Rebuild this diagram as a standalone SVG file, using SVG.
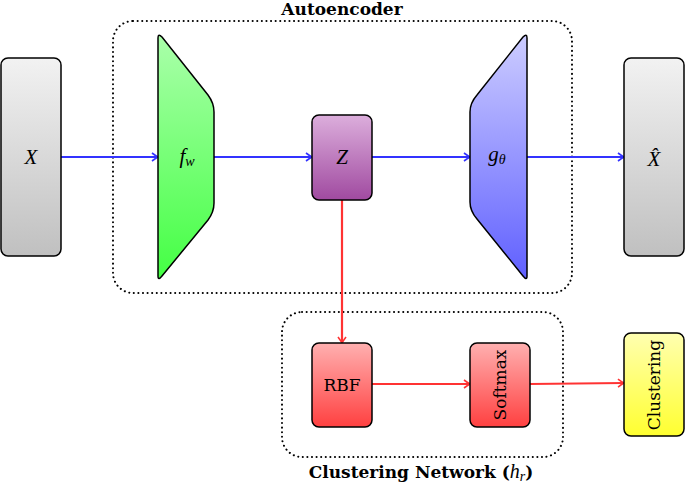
<svg xmlns="http://www.w3.org/2000/svg" width="685" height="486" viewBox="0 0 685 486">
<style>
.node{stroke:#000;stroke-width:1.5}
.txt{font-family:"DejaVu Serif","Liberation Serif",serif;font-size:17px;fill:#000;text-anchor:middle}
.math{font-family:"Liberation Serif","DejaVu Serif",serif;font-style:italic;font-size:21px}
.sub{font-size:14px}
.title{font-weight:bold;font-size:17px}
.frame{fill:none;stroke:#000;stroke-width:2;stroke-dasharray:0.1 4.5;stroke-linecap:round}
.blue{stroke:#3333ff;stroke-width:2.2;fill:none}
.red{stroke:#ff3333;stroke-width:2.2;fill:none}
</style>
<defs>
<linearGradient id="gGray" x1="0" y1="0" x2="0" y2="1"><stop offset="0" stop-color="#f2f2f2"/><stop offset="1" stop-color="#c0c0c0"/></linearGradient>
<linearGradient id="gGreen" x1="0" y1="0" x2="0" y2="1"><stop offset="0" stop-color="#aaffaa"/><stop offset="1" stop-color="#44ff44"/></linearGradient>
<linearGradient id="gBlue" x1="0" y1="0" x2="0" y2="1"><stop offset="0" stop-color="#ccccff"/><stop offset="1" stop-color="#6060ff"/></linearGradient>
<linearGradient id="gPurple" x1="0" y1="0" x2="0" y2="1"><stop offset="0" stop-color="#dcaedc"/><stop offset="1" stop-color="#a04aa0"/></linearGradient>
<linearGradient id="gRed" x1="0" y1="0" x2="0" y2="1"><stop offset="0" stop-color="#ffb0b0"/><stop offset="1" stop-color="#ff4040"/></linearGradient>
<linearGradient id="gYellow" x1="0" y1="0" x2="0" y2="1"><stop offset="0" stop-color="#ffffb0"/><stop offset="1" stop-color="#ffff30"/></linearGradient>
<marker id="aBlue" viewBox="0 0 10 10" refX="9" refY="5" markerWidth="10" markerHeight="10" markerUnits="userSpaceOnUse" orient="auto"><path d="M3,1 Q7,4 9,5 Q7,6 3,9" fill="none" stroke="#3333ff" stroke-width="1.6"/></marker>
<marker id="aRed" viewBox="0 0 10 10" refX="9" refY="5" markerWidth="10" markerHeight="10" markerUnits="userSpaceOnUse" orient="auto"><path d="M3,1 Q7,4 9,5 Q7,6 3,9" fill="none" stroke="#ff3333" stroke-width="1.6"/></marker>
</defs>

<g id="autoencoder-frame">
<rect class="frame" x="113" y="21" width="459" height="272" rx="20"/>
<text class="txt title" x="342" y="15">Autoencoder</text>
</g>
<g id="clustering-frame">
<rect class="frame" x="282" y="312" width="281" height="145" rx="20"/>
<text class="txt title" x="421" y="478">Clustering Network (<tspan class="math" style="font-weight:normal;font-size:20px">h</tspan><tspan class="math" style="font-weight:normal;font-size:14px" dy="3">r</tspan><tspan dy="-3">)</tspan></text>
</g>

<g id="connectors">
<line class="blue" x1="61" y1="157" x2="158" y2="157" marker-end="url(#aBlue)"/>
<line class="blue" x1="214" y1="157" x2="312" y2="157" marker-end="url(#aBlue)"/>
<line class="blue" x1="372" y1="157" x2="470" y2="157" marker-end="url(#aBlue)"/>
<line class="blue" x1="527" y1="157" x2="624" y2="157" marker-end="url(#aBlue)"/>
<line class="red" x1="342" y1="200" x2="342" y2="343" marker-end="url(#aRed)"/>
<line class="red" x1="372" y1="384" x2="470" y2="384" marker-end="url(#aRed)"/>
<line class="red" x1="530" y1="384" x2="624" y2="383" marker-end="url(#aRed)"/>
</g>

<g id="X">
<rect class="node" x="1" y="58" width="60" height="198" rx="7" fill="url(#gGray)"/>
<text class="txt math" x="31" y="164">X</text>
</g>
<g id="fw">
<path class="node" fill="url(#gGreen)" d="M158,38 Q158,33 162,37 L208,95 Q214,103 214,112 L214,203 Q214,212 208,220 L162,276 Q158,281 158,276 Z"/>
<text class="txt math" x="187" y="163">f<tspan class="sub" dy="3">w</tspan></text>
</g>
<g id="Z">
<rect class="node" x="312" y="115" width="60" height="85" rx="7" fill="url(#gPurple)"/>
<text class="txt math" x="342" y="164">Z</text>
</g>
<g id="gtheta">
<path class="node" fill="url(#gBlue)" d="M527,38 Q527,33 523,37 L477,95 Q470,103 470,112 L470,202 Q470,211 477,219 L523,276 Q527,281 527,276 Z"/>
<text class="txt math" x="497" y="161">g<tspan class="sub" dy="3">θ</tspan></text>
</g>
<g id="Xhat">
<rect class="node" x="624" y="58" width="60" height="198" rx="7" fill="url(#gGray)"/>
<text class="txt math" x="654" y="166">X̂</text>
</g>
<g id="RBF">
<rect class="node" x="312" y="343" width="60" height="84" rx="7" fill="url(#gRed)"/>
<text class="txt" x="342" y="391">RBF</text>
</g>
<g id="Softmax">
<rect class="node" x="470" y="343" width="60" height="84" rx="7" fill="url(#gRed)"/>
<text class="txt" transform="translate(506,385) rotate(-90)">Softmax</text>
</g>
<g id="Clustering">
<rect class="node" x="624" y="333" width="60" height="103" rx="7" fill="url(#gYellow)"/>
<text class="txt" transform="translate(660,385) rotate(-90)">Clustering</text>
</g>
</svg>
